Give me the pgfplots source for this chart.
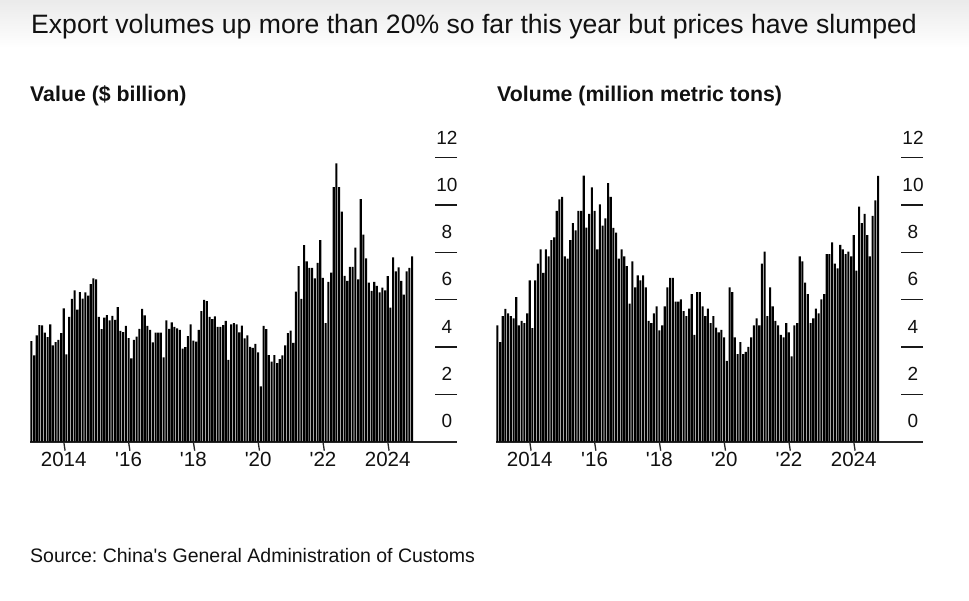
\documentclass[border=0pt]{standalone}
\usepackage{pgfplots}
\usepackage{pgfplotstable}
\usepackage{fontspec}
\setmainfont{Liberation Sans}
\newfontfamily\tickfont{Liberation Sans}
\pgfplotsset{compat=1.18}

\definecolor{ink}{HTML}{111111}

% monthly, Jan 2013 = 0
\pgfplotstableread{
k v
0 4.25
1 3.65
2 4.49
3 4.93
4 4.92
5 4.61
6 4.42
7 4.96
8 4.07
9 4.21
10 4.30
11 4.59
12 5.63
13 3.69
14 5.27
15 6.03
16 6.39
17 5.58
18 6.32
19 6.04
20 6.31
21 6.17
22 6.66
23 6.90
24 6.86
25 5.27
26 4.76
27 5.24
28 5.35
29 5.13
30 5.32
31 5.15
32 5.69
33 4.68
34 4.63
35 4.89
36 4.38
37 3.52
38 4.30
39 4.44
40 4.77
41 5.61
42 5.34
43 4.89
44 4.73
45 4.20
46 4.61
47 4.61
48 4.61
49 3.56
50 5.13
51 4.77
52 5.04
53 4.85
54 4.79
55 4.72
56 3.93
57 4.00
58 4.46
59 4.96
60 4.27
61 4.23
62 4.72
63 5.52
64 5.99
65 5.94
66 5.27
67 5.18
68 5.30
69 4.85
70 4.85
71 4.93
72 5.10
73 3.46
74 4.96
75 5.01
76 4.96
77 4.62
78 4.90
79 4.37
80 4.49
81 4.01
82 3.96
83 4.13
84 3.77
85 2.34
86 4.89
87 4.76
88 3.66
89 3.38
90 3.66
91 3.32
92 3.49
93 3.65
94 4.07
95 4.59
96 4.69
97 4.18
98 6.34
99 7.42
100 6.03
101 8.31
102 7.62
103 7.34
104 7.34
105 6.90
106 7.56
107 8.52
108 6.92
109 5.01
110 6.75
111 7.14
112 10.76
113 11.76
114 10.76
115 9.72
116 7.01
117 6.79
118 7.39
119 7.39
120 8.20
121 6.86
122 10.25
123 8.75
124 7.75
125 6.72
126 6.37
127 6.75
128 6.58
129 6.31
130 6.51
131 6.39
132 7.00
133 5.66
134 7.79
135 7.20
136 7.37
137 6.79
138 6.21
139 7.20
140 7.34
141 7.83
}\valuetable

\pgfplotstableread{
k v
0 4.92
1 4.21
2 5.31
3 5.61
4 5.42
5 5.31
6 5.21
7 6.11
8 4.92
9 5.11
10 5.01
11 5.42
12 6.82
13 4.80
14 6.82
15 7.52
16 8.13
17 7.13
18 8.13
19 7.83
20 8.52
21 8.63
22 9.75
23 10.24
24 10.34
25 7.83
26 7.73
27 8.52
28 9.23
29 8.93
30 9.75
31 9.75
32 11.24
33 9.04
34 9.63
35 10.75
36 9.75
37 8.13
38 10.03
39 9.13
40 9.44
41 10.93
42 10.34
43 9.03
44 8.83
45 7.73
46 8.13
47 7.83
48 7.42
49 5.83
50 7.62
51 6.52
52 7.03
53 6.82
54 7.03
55 6.52
56 5.11
57 5.01
58 5.42
59 5.72
60 4.70
61 4.92
62 5.72
63 6.52
64 6.92
65 6.92
66 5.92
67 5.92
68 6.01
69 5.52
70 5.31
71 5.62
72 6.23
73 4.51
74 6.32
75 6.32
76 5.72
77 5.31
78 5.62
79 5.01
80 5.31
81 4.82
82 4.62
83 4.72
84 4.41
85 3.41
86 6.52
87 6.32
88 4.41
89 3.70
90 4.21
91 3.70
92 3.80
93 4.01
94 4.41
95 4.92
96 5.21
97 4.92
98 7.52
99 8.03
100 5.31
101 6.52
102 5.72
103 5.11
104 4.92
105 4.51
106 4.41
107 5.01
108 4.62
109 3.61
110 4.92
111 5.01
112 7.83
113 7.62
114 6.72
115 6.23
116 5.01
117 5.21
118 5.62
119 5.42
120 6.01
121 6.23
122 7.93
123 7.93
124 8.42
125 7.52
126 7.32
127 8.32
128 8.13
129 7.93
130 8.03
131 7.83
132 8.73
133 7.23
134 9.93
135 9.23
136 9.63
137 8.73
138 7.83
139 9.54
140 10.20
141 11.23
}\volumetable

\pgfplotsset{
  panel/.style={
    scale only axis,
    width=427pt, height=307.7pt,
    xmin=-0.5, xmax=157.65,
    ymin=0, ymax=13,
    axis x line*=bottom,
    axis y line*=right,
    x axis line style={draw=black!85, line width=1.6pt},
    y axis line style={draw=none},
    ytick={0,2,...,12},
    ytick pos=right,
    yticklabel pos=right,
    tick align=inside,
    major tick length=22pt,
    ytick style={draw=black!90, line width=1.3pt},
    yticklabel style={anchor=south, xshift=-10pt, yshift=10pt,
      font=\fontsize{19}{19}\selectfont},
    xtick={12,36,60,84,108,132},
    xticklabels={2014,'16,'18,'20,'22,2024},
    xtick style={draw=none},
    xticklabel style={yshift=-7pt, font=\tickfont\fontsize{20.5}{20.5}\selectfont},
    ticklabel style={text=ink},
    /pgf/number format/assume math mode=true,
    clip=false,
  },
  barstyle/.style={ybar, bar width=0.75, bar shift=0pt, fill=black, draw=none},
}

\begin{document}
\frenchspacing
\begin{tikzpicture}
\path[use as bounding box] (0,0) rectangle (969pt,-600pt);
\shade[top color=black!8, bottom color=white] (0,0) rectangle (969pt,-48pt);

\node[anchor=base west, inner sep=0pt, text=ink, font=\fontsize{26.6}{26.6}\selectfont] at (31pt,-33pt)
  {Export volumes up more than 20\% so far this year but prices have slumped};

\node[anchor=base west, inner sep=0pt, text=ink, font=\bfseries\fontsize{21.3}{21.3}\selectfont] at (30pt,-101.5pt)
  {Value (\$ billion)};
\node[anchor=base west, inner sep=0pt, text=ink, font=\bfseries\fontsize{21.3}{21.3}\selectfont] at (497pt,-101.5pt)
  {Volume (million metric tons)};

\node[anchor=base west, inner sep=0pt, text=ink, font=\tickfont\fontsize{19.5}{19.5}\selectfont] at (30pt,-562pt)
  {Source: China's General Administration of Customs};

\begin{axis}[panel, at={(30pt,-441.7pt)}, anchor=south west]
  \addplot[barstyle] table[x=k, y=v] {\valuetable};
  \pgfplotsinvokeforeach{12,36,60,84,108,132}{
    \draw[black!85, line width=1.3pt] (axis cs:#1,0) -- ++(0,-9pt);
  }
\end{axis}

\begin{axis}[panel, at={(496pt,-441.7pt)}, anchor=south west]
  \addplot[barstyle] table[x=k, y=v] {\volumetable};
  \pgfplotsinvokeforeach{12,36,60,84,108,132}{
    \draw[black!85, line width=1.3pt] (axis cs:#1,0) -- ++(0,-9pt);
  }
\end{axis}
\end{tikzpicture}
\end{document}
